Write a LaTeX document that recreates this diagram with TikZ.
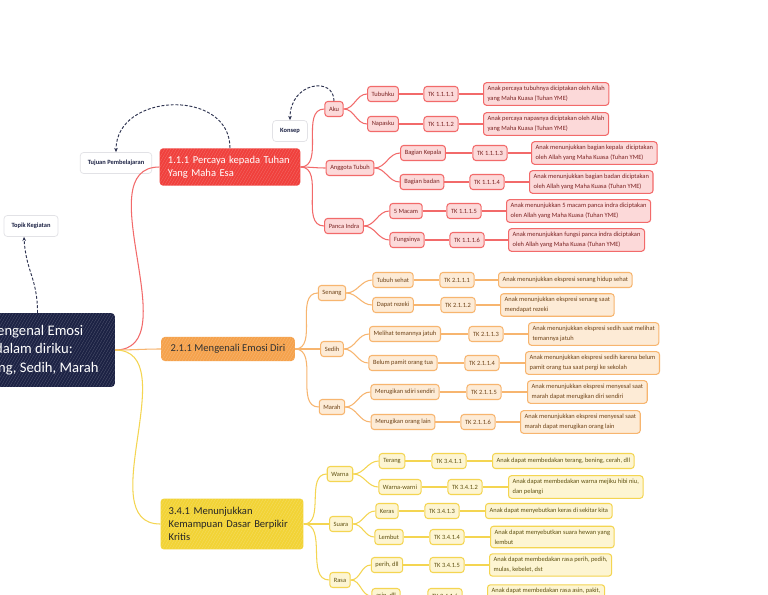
\documentclass[tikz,border=0pt]{standalone}
\usepackage{fontspec}
\setmainfont{Carlito}
\usepackage{xcolor}
\usepackage{tikz}
\usetikzlibrary{arrows.meta, positioning, patterns.meta}
\definecolor{knavy}{HTML}{1C2244}
\definecolor{kdash}{HTML}{2E3350}
\definecolor{kgrey}{HTML}{E2E2E6}
\definecolor{kred}{HTML}{F0403C}
\definecolor{kredline}{HTML}{F26A6A}
\definecolor{kredfill}{HTML}{FCD9D9}
\definecolor{kredtext}{HTML}{7A2222}
\definecolor{korange}{HTML}{F5A24C}
\definecolor{koraline}{HTML}{F7B56F}
\definecolor{korafill}{HTML}{FDEBD6}
\definecolor{koratext}{HTML}{6E4318}
\definecolor{kyellow}{HTML}{F2D335}
\definecolor{kyelline}{HTML}{F4D551}
\definecolor{kyelfill}{HTML}{FDF5D2}
\definecolor{kyeltext}{HTML}{5E5010}

\tikzset{
  hatch/.style={postaction={opacity=0.22, pattern={Lines[angle=60,distance=2.2pt,line width=0.3pt]}, pattern color=white}},
  mainbox/.style={rounded corners=3pt, font=\fontsize{9}{11}\selectfont, inner xsep=7pt, hatch},
  tagbox/.style={draw=kgrey, fill=white, rounded corners=3pt, line width=0.6pt, font=\fontsize{5.5}{7}\selectfont\bfseries, text=knavy, inner xsep=6.5pt, minimum height=18pt},
  leaf/.style={draw, rounded corners=2.5pt, line width=0.9pt, font=\fontsize{5.5}{7}\selectfont, inner xsep=3.5pt, inner ysep=3pt, minimum height=12.8pt},
  note/.style={leaf, anchor=west, align=left, font=\fontsize{5.5}{8.5}\selectfont},
  rleaf/.style={leaf, draw=kredline, fill=kredfill, text=kredtext},
  rnote/.style={note, draw=kredline, fill=kredfill, text=kredtext},
  oleaf/.style={leaf, draw=koraline, fill=korafill, text=koratext},
  onote/.style={note, draw=koraline, fill=korafill, text=koratext},
  yleaf/.style={leaf, draw=kyelline, fill=kyelfill, text=kyeltext},
  ynote/.style={note, draw=kyelline, fill=kyelfill, text=kyeltext},
  rlink/.style={draw=kredline, line width=0.9pt},
  olink/.style={draw=koraline, line width=0.9pt},
  ylink/.style={draw=kyelline, line width=0.9pt},
  dashlink/.style={draw=kdash, line width=0.8pt, dash pattern=on 2.5pt off 1.5pt, -{Stealth[length=3.5pt,width=3pt]}},
}

\begin{document}
\begin{tikzpicture}[x=0.03cm, y=-0.03cm]
\fill[white] (0,0) rectangle (768,594);
\useasboundingbox (0,0) rectangle (768,594);

% root and tags
\node[mainbox, fill=knavy, text=white, font=\fontsize{12.5}{16}\selectfont, align=center,
  minimum width=138pt, minimum height=63pt] (root) at (34,350) {Mengenal Emosi\\dalam diriku:\\Senang, Sedih, Marah};
\node[tagbox] (topik) at (31,226) {Topik Kegiatan};
\node[tagbox] (tujuan) at (116,163) {Tujuan Pembelajaran};
\node[tagbox] (konsep) at (290,131) {Konsep};

% main topics
\node[mainbox, fill=kred, text=white, text width=106pt, align=left, minimum height=32pt]
  (percaya) at (230,167) {1.1.1 Percaya kepada Tuhan\\Yang Maha Esa};
\node[mainbox, fill=korange, text=black!80, minimum width=114pt, minimum height=20.5pt]
  (emosi) at (228,349) {2.1.1 Mengenali Emosi Diri};
\node[mainbox, fill=kyellow, text=black!85, text width=108pt, align=left, minimum height=43.5pt]
  (kritis) at (232,524) {3.4.1 Menunjukkan\\Kemampuan Dasar Berpikir\\Kritis};

% red branch
\node[rleaf] (aku) at (334,109) {Aku};
\node[rleaf] (tubuhku) at (383,94) {Tubuhku};
\node[rleaf] (tk1111) at (441,94) {TK 1.1.1.1};
\node[rnote] (d1111) at (483,94) {Anak percaya tubuhnya diciptakan oleh Allah\\yang Maha Kuasa (Tuhan YME)};
\node[rleaf] (napasku) at (383,124) {Napasku};
\node[rleaf] (tk1112) at (441,124) {TK 1.1.1.2};
\node[rnote] (d1112) at (483,124) {Anak percaya napasnya diciptakan oleh Allah\\yang Maha Kuasa (Tuhan YME)};
\node[rleaf] (anggota) at (350,168) {Anggota Tubuh};
\node[rleaf] (kepala) at (423,153) {Bagian Kepala};
\node[rleaf] (tk1113) at (490,153) {TK 1.1.1.3};
\node[rnote] (d1113) at (531,153) {Anak menunjukkan bagian kepala\ \ diciptakan\\oleh Allah yang Maha Kuasa (Tuhan YME)};
\node[rleaf] (badan) at (422,182) {Bagian badan};
\node[rleaf] (tk1114) at (487,182) {TK 1.1.1.4};
\node[rnote] (d1114) at (529,182) {Anak menunjukkan bagian badan diciptakan\\oleh Allah yang Maha Kuasa (Tuhan YME)};
\node[rleaf] (panca) at (344,226) {Panca Indra};
\node[rleaf] (macam) at (406,211) {5 Macam};
\node[rleaf] (tk1115) at (464,211) {TK 1.1.1.5};
\node[rnote] (d1115) at (506,211) {Anak menunjukkan 5 macam panca indra diciptakan\\olen Allah yang Maha Kuasa (Tuhan YME)};
\node[rleaf] (fungsi) at (407,240) {Fungsinya};
\node[rleaf] (tk1116) at (467,240) {TK 1.1.1.6};
\node[rnote] (d1116) at (508,240) {Anak menunjukkan fungsi panca indra diciptakan\\oleh Allah yang Maha Kuasa (Tuhan YME)};

% orange branch
\node[oleaf] (senang) at (332,293) {Senang};
\node[oleaf] (sehat) at (393,280) {Tubuh sehat};
\node[oleaf] (tk2111) at (457,280) {TK 2.1.1.1};
\node[onote] (d2111) at (498,280) {Anak menunjukkan ekspresi senang hidup sehat};
\node[oleaf] (rezeki) at (393,305) {Dapat rezeki};
\node[oleaf] (tk2112) at (458,305) {TK 2.1.1.2};
\node[onote] (d2112) at (500,305) {Anak menunjukkan ekspresi senang saat\\mendapat rezeki};
\node[oleaf] (sedih) at (332,349) {Sedih};
\node[oleaf] (jatuh) at (405,334) {Melihat temannya jatuh};
\node[oleaf] (tk2113) at (486,334) {TK 2.1.1.3};
\node[onote] (d2113) at (528,334) {Anak menunjukkan ekspresi sedih saat melihat\\temannya jatuh};
\node[oleaf] (pamit) at (403,363) {Belum pamit orang tua};
\node[oleaf] (tk2114) at (482,363) {TK 2.1.1.4};
\node[onote] (d2114) at (525,363) {Anak menunjukkan ekspresi sedih karena belum\\pamit orang tua saat pergi ke sekolah};
\node[oleaf] (marah) at (332,407) {Marah};
\node[oleaf] (sendiri) at (405,392) {Merugikan sdiri sendiri};
\node[oleaf] (tk2115) at (484,392) {TK 2.1.1.5};
\node[onote] (d2115) at (527,392) {Anak menunjukkan ekspresi menyesal saat\\marah dapat merugikan diri sendiri};
\node[oleaf] (lain) at (403,422) {Merugikan orang lain};
\node[oleaf] (tk2116) at (478,422) {TK 2.1.1.6};
\node[onote] (d2116) at (520,422) {Anak menunjukkan ekspresi menyesal saat\\marah dapat merugikan orang lain};

% yellow branch
\node[yleaf] (warna) at (340,474) {Warna};
\node[yleaf] (terang) at (392,461) {Terang};
\node[yleaf] (tk3411) at (449,461) {TK 3.4.1.1};
\node[ynote] (d3411) at (492,461) {Anak dapat membedakan terang, bening, cerah, dll};
\node[yleaf] (warnawarni) at (400,487) {Warna-warni};
\node[yleaf] (tk3412) at (465,487) {TK 3.4.1.2};
\node[ynote] (d3412) at (508,487) {Anak dapat membedakan warna mejiku hibi niu,\\dan pelangi};
\node[yleaf] (suara) at (341,524) {Suara};
\node[yleaf] (keras) at (387,511) {Keras};
\node[yleaf] (tk3413) at (442,511) {TK 3.4.1.3};
\node[ynote] (d3413) at (485,511) {Anak dapat menyebutkan keras di sekitar kita};
\node[yleaf] (lembut) at (389,537) {Lembut};
\node[yleaf] (tk3414) at (447,537) {TK 3.4.1.4};
\node[ynote] (d3414) at (490,537) {Anak dapat menyebutkan suara hewan yang\\lembut};
\node[yleaf] (rasa) at (340,580) {Rasa};
\node[yleaf] (perih) at (387,565) {perih, dll};
\node[yleaf] (tk3415) at (447,565) {TK 3.4.1.5};
\node[ynote] (d3415) at (489,565) {Anak dapat membedakan rasa perih, pedih,\\mulas, kebelet, dst};
\node[yleaf] (asin) at (386,596) {asin, dll};
\node[yleaf] (tk3416) at (445,596) {TK 3.4.1.6};
\node[ynote] (d3416) at (487,597) {Anak dapat membedakan rasa asin, pakit,\\\strut};

% links
\draw[rlink] (root.east) to[out=0,in=180] (percaya.west);
\draw[olink] (root.east) to[out=0,in=180] (emosi.west);
\draw[ylink] (root.east) to[out=0,in=180] (kritis.west);

\draw[rlink] (percaya.east) to[out=0,in=180] (aku.west);
\draw[rlink] (percaya.east) to[out=0,in=180] (anggota.west);
\draw[rlink] (percaya.east) to[out=0,in=180] (panca.west);
\draw[rlink] (aku.east) to[out=0,in=180] (tubuhku.west);
\draw[rlink] (aku.east) to[out=0,in=180] (napasku.west);
\draw[rlink] (anggota.east) to[out=0,in=180] (kepala.west);
\draw[rlink] (anggota.east) to[out=0,in=180] (badan.west);
\draw[rlink] (panca.east) to[out=0,in=180] (macam.west);
\draw[rlink] (panca.east) to[out=0,in=180] (fungsi.west);
\draw[rlink] (tubuhku) -- (tk1111) -- (d1111);
\draw[rlink] (napasku) -- (tk1112) -- (d1112);
\draw[rlink] (kepala) -- (tk1113) -- (d1113);
\draw[rlink] (badan) -- (tk1114) -- (d1114);
\draw[rlink] (macam) -- (tk1115) -- (d1115);
\draw[rlink] (fungsi) -- (tk1116) -- (d1116);

\draw[olink] (emosi.east) to[out=0,in=180] (senang.west);
\draw[olink] (emosi.east) to[out=0,in=180] (sedih.west);
\draw[olink] (emosi.east) to[out=0,in=180] (marah.west);
\draw[olink] (senang.east) to[out=0,in=180] (sehat.west);
\draw[olink] (senang.east) to[out=0,in=180] (rezeki.west);
\draw[olink] (sedih.east) to[out=0,in=180] (jatuh.west);
\draw[olink] (sedih.east) to[out=0,in=180] (pamit.west);
\draw[olink] (marah.east) to[out=0,in=180] (sendiri.west);
\draw[olink] (marah.east) to[out=0,in=180] (lain.west);
\draw[olink] (sehat) -- (tk2111) -- (d2111);
\draw[olink] (rezeki) -- (tk2112) -- (d2112);
\draw[olink] (jatuh) -- (tk2113) -- (d2113);
\draw[olink] (pamit) -- (tk2114) -- (d2114);
\draw[olink] (sendiri) -- (tk2115) -- (d2115);
\draw[olink] (lain) -- (tk2116) -- (d2116);

\draw[ylink] (kritis.east) to[out=0,in=180] (warna.west);
\draw[ylink] (kritis.east) to[out=0,in=180] (suara.west);
\draw[ylink] (kritis.east) to[out=0,in=180] (rasa.west);
\draw[ylink] (warna.east) to[out=0,in=180] (terang.west);
\draw[ylink] (warna.east) to[out=0,in=180] (warnawarni.west);
\draw[ylink] (suara.east) to[out=0,in=180] (keras.west);
\draw[ylink] (suara.east) to[out=0,in=180] (lembut.west);
\draw[ylink] (rasa.east) to[out=0,in=180] (perih.west);
\draw[ylink] (rasa.east) to[out=0,in=180] (asin.west);
\draw[ylink] (terang) -- (tk3411) -- (d3411);
\draw[ylink] (warnawarni) -- (tk3412) -- (d3412);
\draw[ylink] (keras) -- (tk3413) -- (d3413);
\draw[ylink] (lembut) -- (tk3414) -- (d3414);
\draw[ylink] (perih) -- (tk3415) -- (d3415);
\draw[ylink] (asin) -- (tk3416) -- (d3416);

% dashed relations
\draw[dashlink] ([xshift=3pt]root.north) .. controls +(0,-35) and +(2,35) .. ([xshift=-6pt]topik.south);
\draw[dashlink] (percaya.north) .. controls +(0,-60) and +(0,-60) .. (tujuan.north);
\draw[dashlink] (aku.north) .. controls +(0,-25) and +(0,-38) .. (konsep.north);
\end{tikzpicture}
\end{document}
